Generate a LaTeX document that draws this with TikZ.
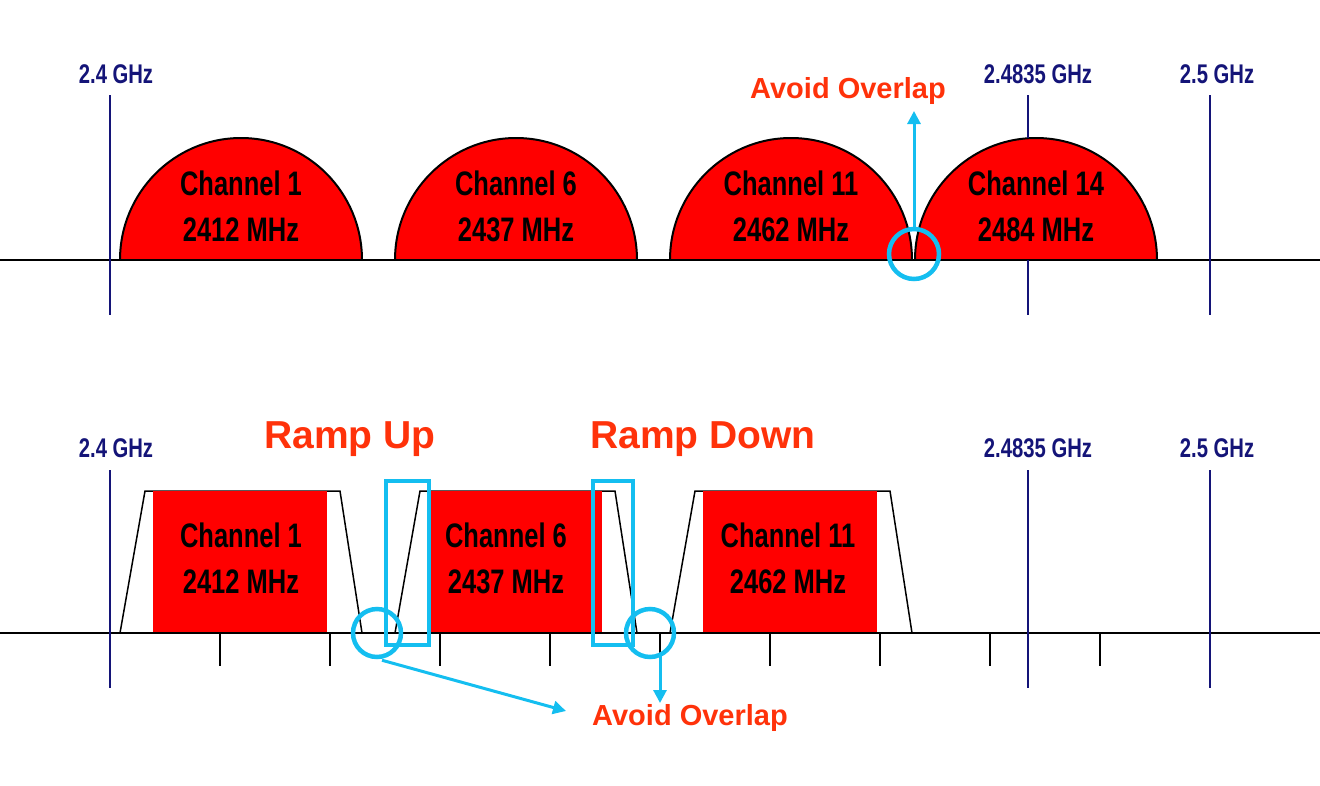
\documentclass[tikz,border=0pt]{standalone}
\usepackage{fontspec}
\usetikzlibrary{arrows.meta}
\setmainfont{Liberation Sans}
\newfontfamily\cond{Liberation Sans}[FakeStretch=0.75]
\begin{document}
\begin{tikzpicture}[x=1pt,y=-1pt,
  base/.style={black,line width=2pt},
  ghz/.style={draw=none,text=navy,font=\cond\bfseries\fontsize{27}{29}\selectfont},
  marker/.style={navy,line width=2pt},
  chan/.style={align=center,font=\cond\bfseries\fontsize{34}{46}\selectfont},
  hump/.style={fill=red,draw=black,line width=2pt},
  cy/.style={draw=cyanx,line width=4.5pt},
  cyarr/.style={cyanx,line width=3pt,-{Triangle[length=13pt,width=13pt]}},
  warn/.style={text=warnred,font=\bfseries\fontsize{29}{31}\selectfont},
  big/.style={text=warnred,font=\bfseries\fontsize{39}{42}\selectfont}]
\definecolor{navy}{RGB}{20,20,120}
\definecolor{cyanx}{RGB}{20,190,240}
\definecolor{warnred}{RGB}{255,50,10}
\useasboundingbox (0,0) rectangle (1320,785);
% ---------- top ----------
\foreach \c in {241,516,791,1036}{
  \draw[hump] (\c-121,260) arc[start angle=180,end angle=360,x radius=121,y radius=122];}
\draw[base] (0,260) -- (1320,260);
\draw[marker] (110,95) -- (110,315);
\draw[marker] (1028,95) -- (1028,138) (1028,260) -- (1028,315);
\draw[marker] (1210,95) -- (1210,315);
\node[ghz] (t1) at (116,74) {2.4 GHz};
\node[ghz] (t2) at (1038,74) {2.4835 GHz};
\node[ghz] (t3) at (1217,74) {2.5 GHz};
\node[chan] (c1) at (241,206) {Channel 1\\2412 MHz};
\node[chan] (c6) at (516,206) {Channel 6\\2437 MHz};
\node[chan] (c11) at (791,206) {Channel 11\\2462 MHz};
\node[chan] (c14) at (1036,206) {Channel 14\\2484 MHz};
\node[warn] (ao1) at (848,91) {Avoid Overlap};
\node[cy,circle,minimum size=50pt,inner sep=0pt] (o1) at (914,254) {};
\draw[cyarr] (o1.north) -- (914,111);
% ---------- bottom ----------
\foreach \s in {0,275,550}{
  \draw[black,line width=1.5pt] (120+\s,633) -- (145+\s,491) -- (340+\s,491) -- (362+\s,633);
  \fill[red] (153+\s,491) rectangle (327+\s,633);}
\draw[base] (0,633) -- (1320,633);
\foreach \x in {220,330,440,550,660,770,880,990,1100}{\draw[black,line width=1.5pt] (\x,633) -- (\x,666);}
\draw[marker] (110,470) -- (110,688);
\draw[marker] (1028,470) -- (1028,688);
\draw[marker] (1210,470) -- (1210,688);
\node[ghz] (b1) at (116,448) {2.4 GHz};
\node[ghz] (b2) at (1038,448) {2.4835 GHz};
\node[ghz] (b3) at (1217,448) {2.5 GHz};
\node[chan] (d1) at (241,558) {Channel 1\\2412 MHz};
\node[chan] (d6) at (506,558) {Channel 6\\2437 MHz};
\node[chan] (d11) at (788,558) {Channel 11\\2462 MHz};
\node[big] (ru) at (350,439) {Ramp Up};
\node[big] (rd) at (703,439) {Ramp Down};
\draw[cy] (386,481) rectangle (429,645);
\draw[cy] (593,481) rectangle (633,645);
\node[cy,circle,minimum size=48pt,inner sep=0pt] (o2) at (377,633) {};
\node[cy,circle,minimum size=48pt,inner sep=0pt] (o3) at (650,633) {};
\node[warn] (ao2) at (690,718) {Avoid Overlap};
\coordinate (a2) at (566,711);
\draw[cyarr] (o2.south) ++(5,1) -- (a2);
\draw[cyarr] (660,655) -- (660,703);
\end{tikzpicture}
\end{document}
